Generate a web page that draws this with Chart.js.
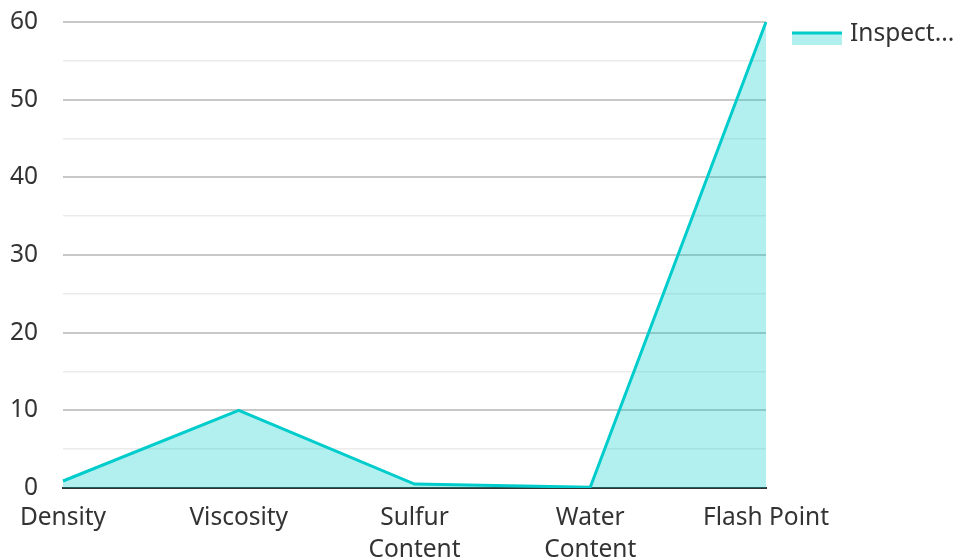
<!DOCTYPE html>
<html>
<head>
<meta charset="utf-8">
<script src="https://cdn.jsdelivr.net/npm/chart.js@4/dist/chart.umd.min.js"></script>
<style>
  html, body { margin: 0; padding: 0; background: #ffffff; }
  #wrap { width: 958px; height: 560px; position: relative; }
</style>
</head>
<body>
<div id="wrap"><canvas id="chart"></canvas></div>
<script>
// Fuel inspection parameters
const categories = ['Density', 'Viscosity', ['Sulfur', 'Content'], ['Water', 'Content'], 'Flash Point'];
const inspectionValues = [0.9, 10, 0.5, 0.1, 60];
const legendLabel = 'Inspect...';

const LINE_COLOR = '#00cccc';
const FILL_COLOR = 'rgba(0, 204, 204, 0.3)';
const TEXT_COLOR = '#333333';
const FONT = { family: '"Noto Sans", "Open Sans", sans-serif', size: 24.5 };

// Legend drawn beside the plot: a line swatch over a filled band, then the label
const sideLegend = {
  id: 'sideLegend',
  afterDraw(chart) {
    const { ctx, chartArea } = chart;
    const x0 = chartArea.right + 26;
    const x1 = x0 + 50;
    const y = chartArea.top + 11;
    ctx.save();
    ctx.fillStyle = FILL_COLOR;
    ctx.fillRect(x0, y, x1 - x0, 12);
    ctx.strokeStyle = LINE_COLOR;
    ctx.lineWidth = 3;
    ctx.beginPath();
    ctx.moveTo(x0, y);
    ctx.lineTo(x1, y);
    ctx.stroke();
    ctx.fillStyle = TEXT_COLOR;
    ctx.font = `${FONT.size}px ${FONT.family}`;
    ctx.textBaseline = 'middle';
    ctx.textAlign = 'left';
    ctx.fillText(legendLabel, x1 + 8, y + 1);
    ctx.restore();
  }
};

new Chart(document.getElementById('chart'), {
  type: 'line',
  data: {
    labels: categories,
    datasets: [{
      label: legendLabel,
      data: inspectionValues,
      borderColor: LINE_COLOR,
      backgroundColor: FILL_COLOR,
      borderWidth: 3,
      fill: 'origin',
      tension: 0,
      pointRadius: 0,
      pointHoverRadius: 0
    }]
  },
  options: {
    responsive: true,
    maintainAspectRatio: false,
    animation: false,
    layout: { padding: { top: 22, right: 192, bottom: 0, left: 10 } },
    plugins: {
      legend: { display: false },
      tooltip: { enabled: false }
    },
    scales: {
      x: {
        offset: false,
        grid: { display: false, drawTicks: false },
        border: { display: true, color: '#333333', width: 2 },
        afterFit: (scale) => { scale.height = 72; },
        ticks: {
          color: TEXT_COLOR,
          font: { ...FONT, lineHeight: 1.3 },
          padding: 14,
          maxRotation: 0,
          autoSkip: false
        }
      },
      y: {
        min: 0,
        max: 60,
        border: { display: false },
        afterFit: (scale) => {
          scale.width = 53;
          scale.paddingTop = 0;
          scale.paddingBottom = 0;
        },
        grid: {
          drawTicks: false,
          color: (c) => (c.tick && c.tick.value % 10 === 0 ? '#c8c8c8' : '#ebebeb'),
          lineWidth: (c) => (c.tick && c.tick.value % 10 === 0 ? 2 : 1.5)
        },
        ticks: {
          stepSize: 5,
          color: TEXT_COLOR,
          font: FONT,
          padding: 25,
          callback: (v) => (v % 10 === 0 ? v : '')
        }
      }
    }
  },
  plugins: [sideLegend]
});
</script>
</body>
</html>
